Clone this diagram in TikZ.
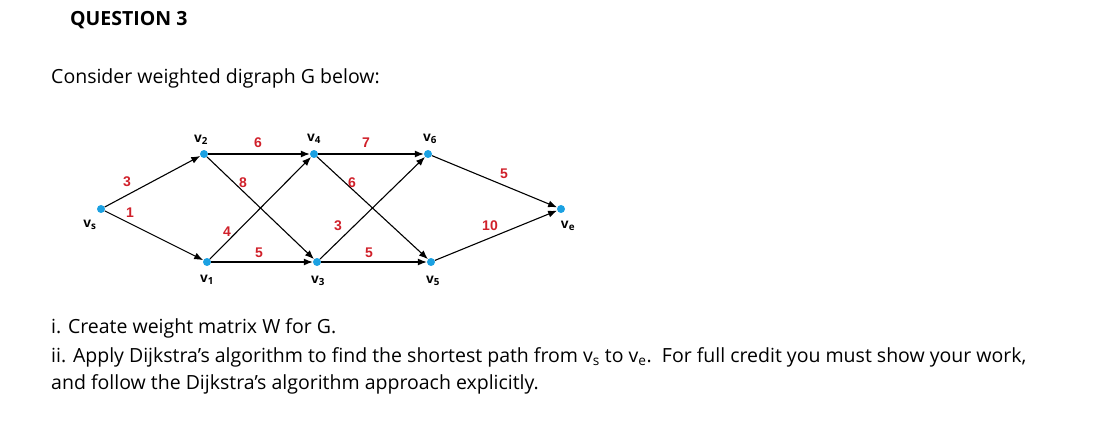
\documentclass[tikz,border=0pt]{standalone}
\usepackage{fontspec}
\usetikzlibrary{arrows.meta}
\setmainfont{Open Sans}
\newfontfamily\arialf{Liberation Sans}
\definecolor{dotc}{HTML}{1BA1E2}
\definecolor{wred}{HTML}{D0202A}
\begin{document}
\begin{tikzpicture}[x=1pt,y=-1pt,
  vtx/.style={circle,fill=dotc,inner sep=0,minimum size=8pt},
  vlab/.style={font=\arialf\bfseries\fontsize{14}{14}\selectfont,inner sep=0},
  wt/.style={font=\arialf\bfseries\fontsize{14}{14}\selectfont,text=wred,inner sep=0},
  edge/.style={draw,-{Latex[length=9pt,width=7pt]},line width=1.1pt,shorten >=0pt},
  txt/.style={anchor=west,inner sep=0,font=\fontsize{19.5}{19.5}\selectfont}]
\useasboundingbox (0,0) rectangle (1108,422);
\node[anchor=west,inner sep=0,font=\bfseries\fontsize{19.5}{19.5}\selectfont] (q) at (70,20) {QUESTION 3};
\node[txt] (c) at (51,78) {Consider weighted digraph G below:};
\node[vtx] (vs) at (101,209) {};
\node[vtx] (v2) at (204,154) {};
\node[vtx] (v4) at (314,154) {};
\node[vtx] (v6) at (428,154) {};
\node[vtx] (v1) at (207,262) {};
\node[vtx] (v3) at (317,262) {};
\node[vtx] (v5) at (431,262) {};
\node[vtx] (ve) at (561,209) {};
\node[vlab] (lvs) at (90,225) {v$_\mathbf{s}$};
\node[vlab] (lv2) at (201,140) {v$_\mathbf{2}$};
\node[vlab] (lv4) at (314,139) {v$_\mathbf{4}$};
\node[vlab] (lv6) at (430,139) {v$_\mathbf{6}$};
\node[vlab] (lv1) at (207,280) {v$_\mathbf{1}$};
\node[vlab] (lv3) at (318,281) {v$_\mathbf{3}$};
\node[vlab] (lv5) at (433,281) {v$_\mathbf{5}$};
\node[vlab] (lve) at (568,226) {v$_\mathbf{e}$};
\draw[edge] (vs) -- (v2);
\draw[edge] (vs) -- (v1);
\draw[edge] (v2) -- (v4);
\draw[edge] (v2) -- (v3);
\draw[edge] (v1) -- (v4);
\draw[edge] (v1) -- (v3);
\draw[edge] (v4) -- (v6);
\draw[edge] (v4) -- (v5);
\draw[edge] (v3) -- (v6);
\draw[edge] (v3) -- (v5);
\draw[edge] (v6) -- (ve);
\draw[edge] (v5) -- (ve);
\node[wt] (w1) at (127,182) {3};
\node[wt] (w2) at (130,213) {1};
\node[wt] (w3) at (258,143) {6};
\node[wt] (w4) at (243,183) {8};
\node[wt] (w5) at (227,232) {4};
\node[wt] (w6) at (259,253) {5};
\node[wt] (w7) at (366,143) {7};
\node[wt] (w8) at (352,183) {6};
\node[wt] (w9) at (338,226) {3};
\node[wt] (w10) at (369,253) {5};
\node[wt] (w11) at (504,174) {5};
\node[wt] (w12) at (490,226) {10};
\node[txt] (i) at (51,328) {i. Create weight matrix W for G.};
\node[txt] (ii) at (51,357) {ii. Apply Dijkstra's algorithm to find the shortest path from v$_\mathrm{s}$ to v$_\mathrm{e}$.\ \ For full credit you must show your work,};
\node[txt] (iii) at (51,384) {and follow the Dijkstra's algorithm approach explicitly.};
\end{tikzpicture}
\end{document}
